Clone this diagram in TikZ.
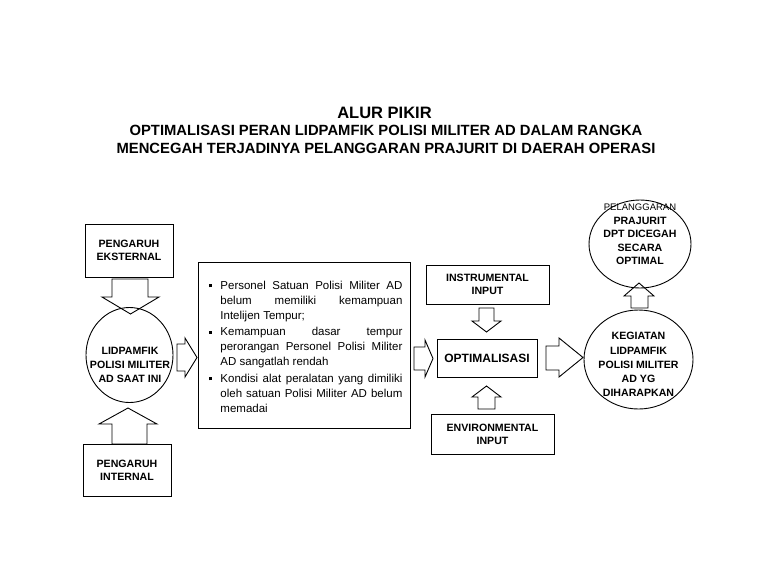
\documentclass[tikz,border=0pt]{standalone}
\usepackage{fontspec}
\setmainfont{Liberation Sans}
\usetikzlibrary{shapes.geometric}
\newcommand\jl[1]{\makebox[182pt][s]{#1}}
\newcommand\bul{\llap{\rule[1.8pt]{3pt}{3pt}\hspace{8pt}}}
\begin{document}
\begin{tikzpicture}[x=1pt,y=-1pt,line width=0.9pt,
  box/.style={draw, inner sep=0pt, align=center, font=\fontsize{10.6}{13}\selectfont\bfseries},
  circ/.style={draw, ellipse, inner sep=0pt},
  ctext/.style={align=center, inner sep=0pt, font=\fontsize{10.6}{14.2}\selectfont\bfseries},
  blk/.style={draw, line join=miter},
  ttl/.style={anchor=base, inner sep=0pt, font=\bfseries}
]
\useasboundingbox (0,0) rectangle (768,576);

% title
\node[ttl, font=\fontsize{16.5}{18}\selectfont\bfseries] (t1) at (384.5,118.7) {ALUR PIKIR};
\node[ttl, font=\fontsize{14.8}{16}\selectfont\bfseries] (t2) at (386,135.3) {OPTIMALISASI PERAN LIDPAMFIK POLISI MILITER AD DALAM RANGKA};
\node[ttl, font=\fontsize{14.8}{16}\selectfont\bfseries] (t3) at (386,153.3) {MENCEGAH TERJADINYA PELANGGARAN PRAJURIT DI DAERAH OPERASI};

% boxes
\node[box, minimum width=88, minimum height=53] (ek) at (129,250.5) {PENGARUH\\EKSTERNAL};
\node[box, minimum width=88, minimum height=52] (in) at (127,470) {PENGARUH\\INTERNAL};
\node[draw, inner sep=0pt, minimum width=212, minimum height=166] (tb) at (304,345) {};
\node[box, minimum width=123, minimum height=39] (ins) at (487.5,284.5) {INSTRUMENTAL\\INPUT};
\node[box, minimum width=100, minimum height=38, font=\fontsize{12}{14}\selectfont\bfseries] (opt) at (487,358) {OPTIMALISASI};
\node[box, minimum width=123, minimum height=40] (env) at (492.5,434) {ENVIRONMENTAL\\INPUT};

% circles
\node[circ, minimum width=87, minimum height=95] (c1) at (129.5,355) {};
\node[ctext] (c1t) at (130,365) {LIDPAMFIK\\POLISI MILITER\\AD SAAT INI};
\node[circ, minimum width=109, minimum height=99] (keg) at (638.5,359.5) {};
\node[ctext] (kegt) at (638.5,364.5) {KEGIATAN\\LIDPAMFIK\\POLISI MILITER\\AD YG\\DIHARAPKAN};
\node[circ, minimum width=102, minimum height=88] (top) at (640,244) {};
\node[ctext, font=\fontsize{10.6}{13.5}\selectfont\bfseries] (topt) at (640,234.5) {{\mdseries\fontsize{9.5}{13.5}\selectfont PELANGGARAN}\\PRAJURIT\\DPT DICEGAH\\SECARA\\OPTIMAL};

% bullet text
\node[anchor=north west, inner sep=0pt, align=left, font=\fontsize{11.5}{15}\selectfont] (tbt) at (220,280.5) {%
\bul\jl{Personel Satuan Polisi Militer AD}\\
\jl{belum memiliki kemampuan}\\
Intelijen Tempur;\\[1.5pt]
\bul\jl{Kemampuan dasar tempur}\\
\jl{perorangan Personel Polisi Militer}\\
AD sangatlah rendah\\[1.5pt]
\bul\jl{Kondisi alat peralatan yang dimiliki}\\
\jl{oleh satuan Polisi Militer AD belum}\\
memadai};

% block arrows
\draw[blk] (112,279) -- (148,279) -- (148,297) -- (159,297) -- (130.5,314) -- (102,297) -- (112,297) -- cycle;
\draw[blk] (112,444) -- (112,424) -- (99,424) -- (128,408) -- (157,424) -- (147,424) -- (147,444) -- cycle;
\draw[blk] (177,344) -- (185,344) -- (185,338) -- (197,357.5) -- (185,377) -- (185,371) -- (177,371) -- cycle;
\draw[blk] (414,347) -- (425,347) -- (425,340) -- (433,358.5) -- (425,377) -- (425,370) -- (414,370) -- cycle;
\draw[blk] (479,308) -- (494,308) -- (494,321) -- (501,321) -- (486.5,332) -- (472,321) -- (479,321) -- cycle;
\draw[blk] (478,409) -- (478,397) -- (472,397) -- (486.5,386) -- (501,397) -- (495,397) -- (495,409) -- cycle;
\draw[blk] (546,346) -- (559,346) -- (559,338) -- (583,357.5) -- (559,377) -- (559,370) -- (546,370) -- cycle;
\draw[blk] (631,308) -- (631,296) -- (624,296) -- (639,283) -- (654,296) -- (648,296) -- (648,308) -- cycle;
\end{tikzpicture}
\end{document}
